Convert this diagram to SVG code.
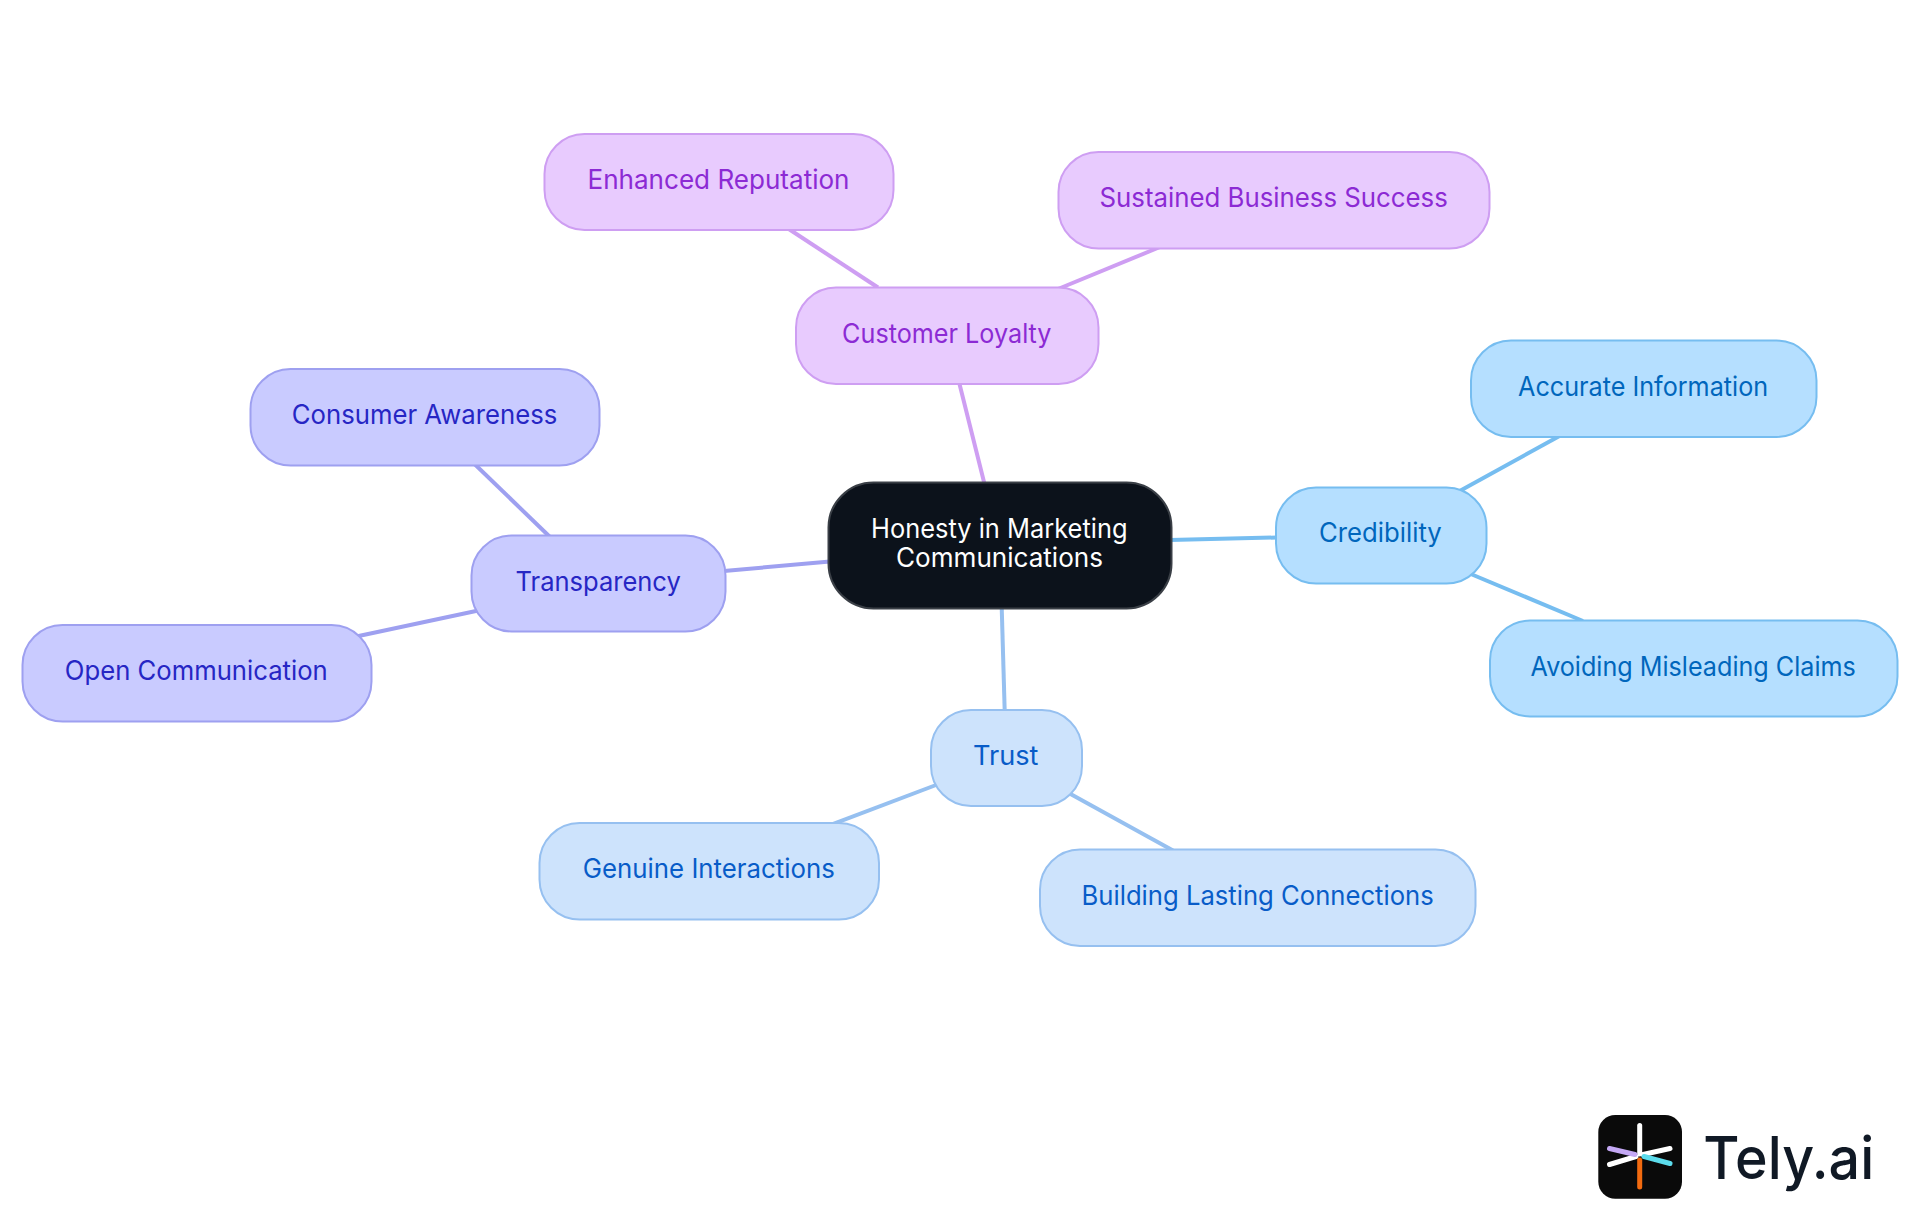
<svg xmlns="http://www.w3.org/2000/svg" width="1920" height="1215" viewBox="0 0 1920 1215">
<style>
text{font-family:"Inter","Noto Sans","Liberation Sans",sans-serif;font-size:26.5px;font-weight:370}
.n{stroke-width:2}
.e{stroke-width:4;fill:none}
.p{fill:#E8CBFE;stroke:#CE9EF2}.pt{fill:#8C2AD4}.pe{stroke:#CE9EF2}
.i{fill:#C9CBFF;stroke:#9EA0F0}.it{fill:#2626C4}.ie{stroke:#9EA0F0}
.b{fill:#B5DFFF;stroke:#76BDF0}.bt{fill:#0066BC}.be{stroke:#76BDF0}
.t{fill:#CDE3FC;stroke:#96C0F0}.tt{fill:#085CC8}.te{stroke:#96C0F0}
.spoke{stroke-width:5;stroke-linecap:round;fill:none}
.brand{font-size:59px;font-weight:450;fill:#101925}
</style>
<rect width="1920" height="1215" fill="#ffffff"/>
<g id="connectors">
<path class="e pe" d="M959 382L984.500 484"/>
<path class="e be" d="M1170 540L1277 537.500"/>
<path class="e ie" d="M830 561.500L724 571"/>
<path class="e te" d="M1001.700 607L1004.700 711"/>
<path class="e pe" d="M788 228.500L878 287.500"/>
<path class="e pe" d="M1160 247L1058 289"/>
<path class="e ie" d="M474 463.500L550 537"/>
<path class="e ie" d="M483 609.500L354 637"/>
<path class="e be" d="M1449.700 496.600L1562.700 434.200"/>
<path class="e be" d="M1466 572L1583 621"/>
<path class="e te" d="M944 782L830 825.200"/>
<path class="e te" d="M1066 791.500L1173 850.500"/>
</g>
<g id="center"><rect class="n" x="828.500" y="482.500" width="343" height="126" rx="45" fill="#0C121B" stroke="#3A3F46"/>
<text x="871" y="537.700" textLength="256.500" lengthAdjust="spacingAndGlyphs" fill="#ffffff">Honesty in Marketing</text>
<text x="896" y="566.700" textLength="207" lengthAdjust="spacingAndGlyphs" fill="#ffffff">Communications</text></g>
<g id="customer-loyalty"><rect class="n p" x="796" y="287.500" width="302.500" height="96.500" rx="40"/>
<text class="pt" x="842.100" y="342.700" textLength="209.400" lengthAdjust="spacingAndGlyphs">Customer Loyalty</text></g>
<g id="enhanced-reputation"><rect class="n p" x="544.500" y="134" width="349" height="96" rx="40"/>
<text class="pt" x="587.500" y="189" textLength="262" lengthAdjust="spacingAndGlyphs">Enhanced Reputation</text></g>
<g id="sustained-business-success"><rect class="n p" x="1058.500" y="152" width="431" height="96.500" rx="40"/>
<text class="pt" x="1099.500" y="207.300" textLength="348.300" lengthAdjust="spacingAndGlyphs">Sustained Business Success</text></g>
<g id="transparency"><rect class="n i" x="471.500" y="535.500" width="254" height="96" rx="40"/>
<text class="it" x="515.500" y="590.700" textLength="165.300" lengthAdjust="spacingAndGlyphs">Transparency</text></g>
<g id="consumer-awareness"><rect class="n i" x="250.500" y="369" width="349" height="96.500" rx="40"/>
<text class="it" x="291.800" y="424" textLength="265.500" lengthAdjust="spacingAndGlyphs">Consumer Awareness</text></g>
<g id="open-communication"><rect class="n i" x="22.500" y="625" width="349" height="96.500" rx="40"/>
<text class="it" x="64.800" y="680" textLength="263" lengthAdjust="spacingAndGlyphs">Open Communication</text></g>
<g id="credibility"><rect class="n b" x="1276" y="487.500" width="210.500" height="96" rx="40"/>
<text class="bt" x="1319.100" y="541.700" textLength="122.700" lengthAdjust="spacingAndGlyphs">Credibility</text></g>
<g id="accurate-information"><rect class="n b" x="1471" y="340.500" width="345.500" height="96.500" rx="40"/>
<text class="bt" x="1518.100" y="396" textLength="250" lengthAdjust="spacingAndGlyphs">Accurate Information</text></g>
<g id="avoiding-misleading-claims"><rect class="n b" x="1490" y="620.500" width="407.500" height="96" rx="40"/>
<text class="bt" x="1530.500" y="676" textLength="325.300" lengthAdjust="spacingAndGlyphs">Avoiding Misleading Claims</text></g>
<g id="trust"><rect class="n t" x="931" y="710" width="151" height="96" rx="40"/>
<text class="tt" x="973.100" y="764.700" textLength="65.400" lengthAdjust="spacingAndGlyphs">Trust</text></g>
<g id="genuine-interactions"><rect class="n t" x="539.500" y="823" width="339.500" height="96.500" rx="40"/>
<text class="tt" x="582.800" y="878.300" textLength="252" lengthAdjust="spacingAndGlyphs">Genuine Interactions</text></g>
<g id="building-lasting-connections"><rect class="n t" x="1040" y="849.500" width="435.500" height="96.500" rx="40"/>
<text class="tt" x="1081.500" y="905" textLength="352.300" lengthAdjust="spacingAndGlyphs">Building Lasting Connections</text></g>
<g id="logo"><rect x="1598.300" y="1115" width="83.700" height="83.700" rx="17" fill="#0A0A0A"/>
<path class="spoke" stroke="#ffffff" d="M1639.700 1154V1125.500"/>
<path class="spoke" stroke="#ffffff" d="M1609.500 1164.500L1636 1156.500"/>
<path class="spoke" stroke="#ffffff" d="M1643 1154.500L1670 1148.500"/>
<path class="spoke" stroke="#C4A8F4" d="M1609.500 1148.500L1635 1154.500"/>
<path class="spoke" stroke="#5CDCEC" d="M1644 1156.500L1670 1163.500"/>
<path class="spoke" stroke="#F26A0F" d="M1639.700 1160V1187"/>
<text class="brand" x="1703.200" y="1178.700" textLength="171" lengthAdjust="spacingAndGlyphs">Tely.ai</text></g>
</svg>
